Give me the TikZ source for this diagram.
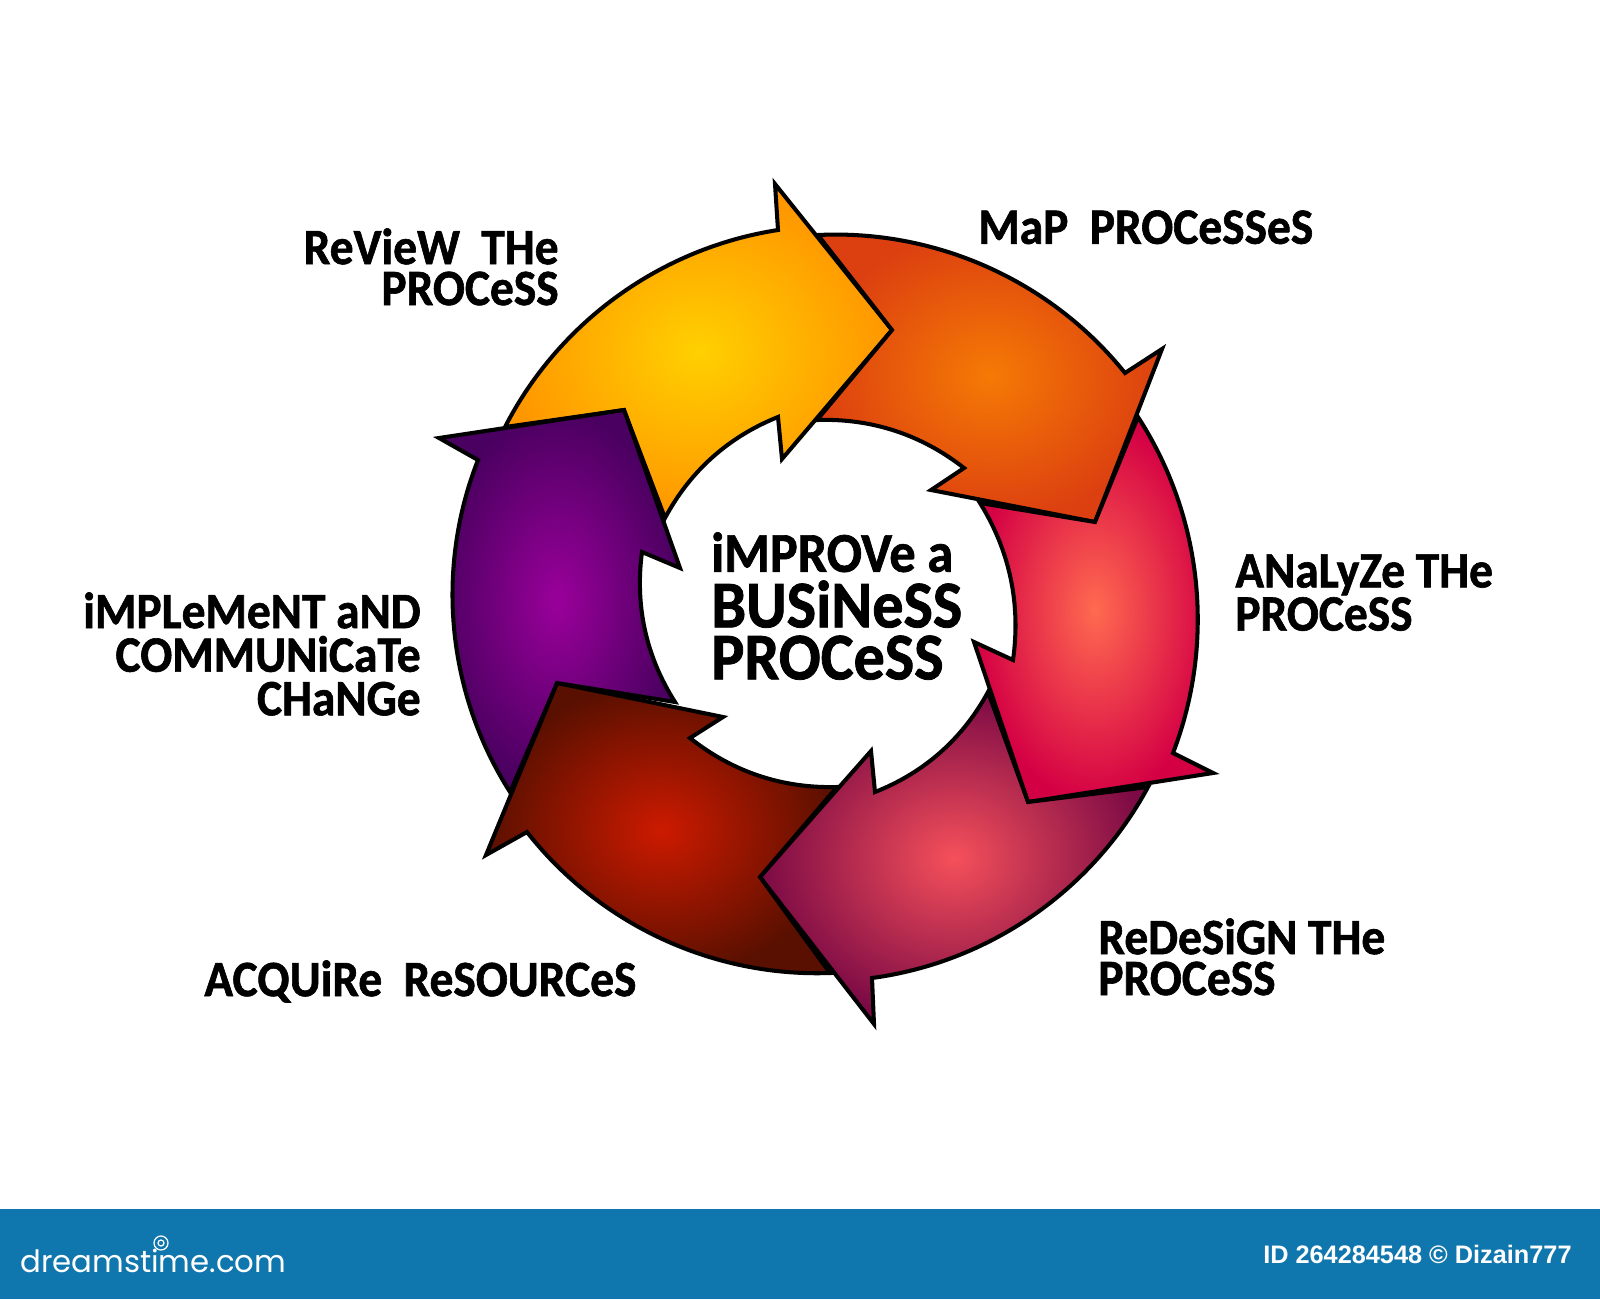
\documentclass[tikz,border=0pt]{standalone}
\usepackage{fontspec}
\usetikzlibrary{positioning}
\newfontfamily\handfont[FakeBold=1.2,FakeStretch=0.93]{Carlito Bold}
\newfontfamily\logofont{Poppins}
\setmainfont{Liberation Sans}
\definecolor{reviewin}{HTML}{FFD000}
\definecolor{reviewout}{HTML}{FF9600}
\definecolor{mapin}{HTML}{F57A05}
\definecolor{mapout}{HTML}{DC4010}
\definecolor{analyzein}{HTML}{FF6A50}
\definecolor{analyzeout}{HTML}{D40044}
\definecolor{redesignin}{HTML}{F5505A}
\definecolor{redesignout}{HTML}{7B0A45}
\definecolor{acquirein}{HTML}{CC1A00}
\definecolor{acquireout}{HTML}{5A1000}
\definecolor{implementin}{HTML}{9A009A}
\definecolor{implementout}{HTML}{4A0060}
\definecolor{footerblue}{HTML}{0F76AE}
\begin{document}
\begin{tikzpicture}[x=0.02cm,y=-0.02cm,
      ringedge/.style={draw=black, line width=2.3pt},
      outerarc/.style={bend left=27, looseness=0.9},
      innerarc/.style={bend right=20, looseness=0.9},
      steplabel/.style={inner sep=0pt, align=#1, font=\handfont\fontsize{29}{23.3}\selectfont}
      ]
      \useasboundingbox (0,0) rectangle (1600,1299);
      \fill[white] (0,0) rectangle (1600,1299);
      \coordinate (reviewtip) at (892,330);
      \coordinate (maptip) at (1095,522);
      \coordinate (analyzetip) at (1028,802);
      \coordinate (redesigntip) at (760,877);
      \coordinate (acquiretip) at (557,683);
      \coordinate (implementtip) at (624,410);
      \draw[ringedge, inner color=reviewin, outer color=reviewout] (505,427) to[outerarc] (778,230) -- (775,184) -- (reviewtip) -- (782,459) -- (778,417) to[innerarc] (665,518) -- (implementtip) -- cycle;
      \draw[ringedge, inner color=mapin, outer color=mapout] (818,235) to[outerarc] (1125,373) -- (1162,349) -- (maptip) -- (931,490) -- (964,468) to[innerarc] (817,420) -- (reviewtip) -- cycle;
      \draw[ringedge, inner color=analyzein, outer color=analyzeout] (1138,417) to[outerarc] (1173,753) -- (1213,773) -- (analyzetip) -- (974,642) -- (1013,660) to[innerarc] (980,503) -- (maptip) -- cycle;
      \draw[ringedge, inner color=redesignin, outer color=redesignout] (1148,787) to[outerarc] (872,978) -- (874,1024) -- (redesigntip) -- (871,751) -- (875,792) to[innerarc] (988,692) -- (analyzetip) -- cycle;
      \draw[ringedge, inner color=acquirein, outer color=acquireout] (830,973) to[outerarc] (527,832) -- (486,855) -- (acquiretip) -- (723,717) -- (690,738) to[innerarc] (837,787) -- (redesigntip) -- cycle;
      \draw[ringedge, inner color=implementin, outer color=implementout] (510,792) to[outerarc] (478,460) -- (439,438) -- (implementtip) -- (680,568) -- (642,552) to[innerarc] (675,702) -- (acquiretip) -- cycle;
      \node[steplabel=right, anchor=north east] (review) at (559,228) {ReVieW~~THe\\PROCeSS};
      \node[steplabel=left, anchor=north west] (map) at (978,210) {MaP~~PROCeSSeS};
      \node[steplabel=left, anchor=north west] (analyze) at (1235,554) {ANaLyZe THe\\PROCeSS};
      \node[steplabel=left, anchor=north west] (redesign) at (1098,918) {ReDeSiGN THe\\PROCeSS};
      \node[steplabel=left, anchor=north west] (acquire) at (204,960) {ACQUiRe~~ReSOURCeS};
      \node[steplabel=right, anchor=north east] (implement) at (421,592) {iMPLeMeNT aND\\[1.5pt]COMMUNiCaTe\\[1.5pt]CHaNGe};
      \node[inner sep=0pt, align=left, anchor=north west, font=\handfont\fontsize{38}{29.6}\selectfont] (goal) at (711,532) {{\fontsize{32}{29.6}\selectfont iMPROVe a}\\[2pt]BUSiNeSS\\PROCeSS};
      \fill[footerblue] (0,1209) rectangle (1600,1299);
      \node[anchor=base west, inner sep=0pt, text=white, font=\logofont\fontsize{17.5}{18}\selectfont] (logo) at (20,1272) {dreamstime.com};
      \draw[white, line width=0.7pt] (161,1243) circle (7) (161,1243) circle (3);
      \node[anchor=base east, inner sep=0pt, text=white, font=\bfseries\fontsize{14.4}{15}\selectfont] (credit) at (1572,1263) {ID 264284548 © Dizain777};
    \end{tikzpicture}
\end{document}
